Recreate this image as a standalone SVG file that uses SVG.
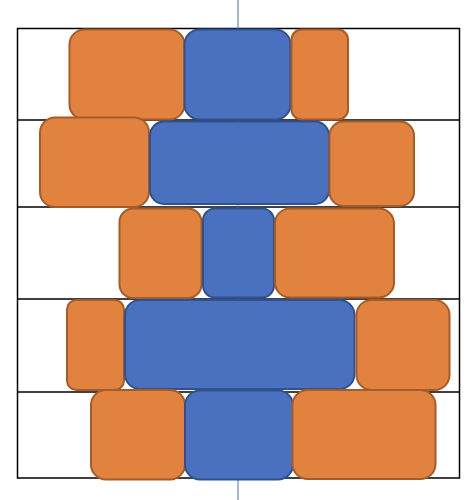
<svg xmlns="http://www.w3.org/2000/svg" width="474" height="500" viewBox="0 0 474 500">
<style>
.frame{fill:none;stroke:#000;stroke-width:1.5}
.row{stroke:#000;stroke-width:1.5}
.axis{stroke:#4472C4;stroke-width:1}
.o{fill:#E2823F;stroke:#A65C28;stroke-width:2}
.b{fill:#4A71BF;stroke:#2F528F;stroke-width:2}
</style>
<rect width="474" height="500" fill="#fff"/>
<g id="frame">
<rect class="frame" x="17.5" y="28.5" width="442" height="449.5"/>
<line class="row" x1="17.5" y1="120" x2="459.5" y2="120"/>
<line class="row" x1="17.5" y1="207" x2="459.5" y2="207"/>
<line class="row" x1="17.5" y1="299" x2="459.5" y2="299"/>
<line class="row" x1="17.5" y1="392" x2="459.5" y2="392"/>
</g>
<g id="connectors">
<line class="axis" x1="238" y1="0" x2="238" y2="500"/>
</g>
<g id="r1o1"><rect class="o" x="69.5" y="29.5" width="115" height="90" rx="15"/></g>
<g id="r1b"><rect class="b" x="184.5" y="29.5" width="106" height="90" rx="15"/></g>
<g id="r1o2"><rect class="o" x="291.5" y="29.5" width="56.5" height="90" rx="10"/></g>
<g id="r2o1"><rect class="o" x="40" y="117.5" width="109" height="89.5" rx="15"/></g>
<g id="r2b"><rect class="b" x="150" y="121.5" width="179" height="82.5" rx="14"/></g>
<g id="r2o2"><rect class="o" x="329.5" y="121.5" width="84.5" height="84.5" rx="14"/></g>
<g id="r3o1"><rect class="o" x="119.5" y="208.5" width="82" height="89.5" rx="13.5"/></g>
<g id="r3b"><rect class="b" x="203" y="208.5" width="71" height="89" rx="12"/></g>
<g id="r3o2"><rect class="o" x="275" y="208.5" width="119" height="89" rx="15"/></g>
<g id="r4o1"><rect class="o" x="67" y="300" width="57" height="90" rx="9.5"/></g>
<g id="r4b"><rect class="b" x="125" y="300" width="229.5" height="89" rx="15"/></g>
<g id="r4o2"><rect class="o" x="356.5" y="300" width="93" height="90" rx="15"/></g>
<g id="r5o1"><rect class="o" x="91" y="390" width="94" height="89.5" rx="15"/></g>
<g id="r5b"><rect class="b" x="185" y="390.5" width="108" height="89" rx="15"/></g>
<g id="r5o2"><rect class="o" x="292.5" y="390" width="143" height="89" rx="15"/></g>
</svg>
